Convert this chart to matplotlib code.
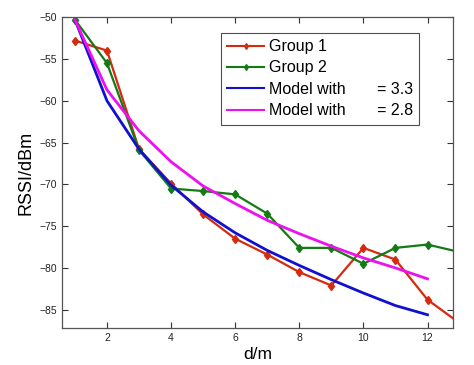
import matplotlib
matplotlib.use("Agg")
import matplotlib.pyplot as plt
import numpy as np

# values
dist_group = [1, 2, 3, 4, 5, 6, 7, 8, 9, 10, 11, 12, 13]
rssi_group1 = [-52.8, -54.0, -65.8, -69.9, -73.6, -76.5, -78.4, -80.5, -82.1, -77.6, -79.0, -83.8, -86.6]
rssi_group2 = [-50.3, -55.5, -65.9, -70.5, -70.8, -71.2, -73.5, -77.6, -77.6, -79.5, -77.6, -77.2, -78.1]

dist_model = [1, 2, 3, 4, 5, 6, 7, 8, 9, 10, 11, 12]
rssi_model_33 = [-50.3, -60.0, -65.8, -70.1, -73.3, -75.8, -77.9, -79.7, -81.4, -83.0, -84.5, -85.6]
rssi_model_28 = [-50.3, -58.7, -63.6, -67.3, -70.2, -72.3, -74.3, -75.9, -77.4, -78.8, -80.0, -81.3]

labels = ["Group 1", "Group 2", "Model with       = 3.3", "Model with       = 2.8"]
xticks = [2, 4, 6, 8, 10, 12]
yticks = [-50, -55, -60, -65, -70, -75, -80, -85]

plt.rcParams['font.family'] = ['Liberation Sans', 'DejaVu Sans']

fig = plt.figure(figsize=(4.74, 3.65), dpi=100)
ax = fig.add_axes([0.131, 0.101, 0.825, 0.852])

ax.plot(dist_group, rssi_group1, color='#d42a10', lw=1.6, marker='d', ms=4.5, label=labels[0])
ax.plot(dist_group, rssi_group2, color='#147a14', lw=1.6, marker='d', ms=4.5, label=labels[1])
ax.plot(dist_model, rssi_model_33, color='#1010d0', lw=2.0, label=labels[2])
ax.plot(dist_model, rssi_model_28, color='#ee10ee', lw=2.0, label=labels[3])

ax.set_xlim(0.6, 12.8)
ax.set_ylim(-87.2, -50)
ax.set_xticks(xticks)
ax.set_yticks(yticks)
ax.tick_params(direction='in', length=4, width=0.8, top=True, right=True,
               labelsize=7.5, colors='#333333', labelcolor='#222222')
for sp in ax.spines.values():
    sp.set_color('#555555')
    sp.set_linewidth(0.9)

ax.set_xlabel("d/m", fontsize=12.5, labelpad=3)
ax.set_ylabel("RSSI/dBm", fontsize=13, labelpad=4)

leg = ax.legend(loc='upper left', bbox_to_anchor=(0.406, 0.95), fontsize=11.5,
                frameon=True, fancybox=False, edgecolor='#222222',
                handlelength=2.3, handletextpad=0.3, borderpad=0.4,
                labelspacing=0.4, borderaxespad=0)
leg.get_frame().set_linewidth(0.8)
for h in leg.legend_handles:
    h.set_linewidth(1.5)
    h.set_markersize(3)

fig.savefig("out.png", dpi=100)
